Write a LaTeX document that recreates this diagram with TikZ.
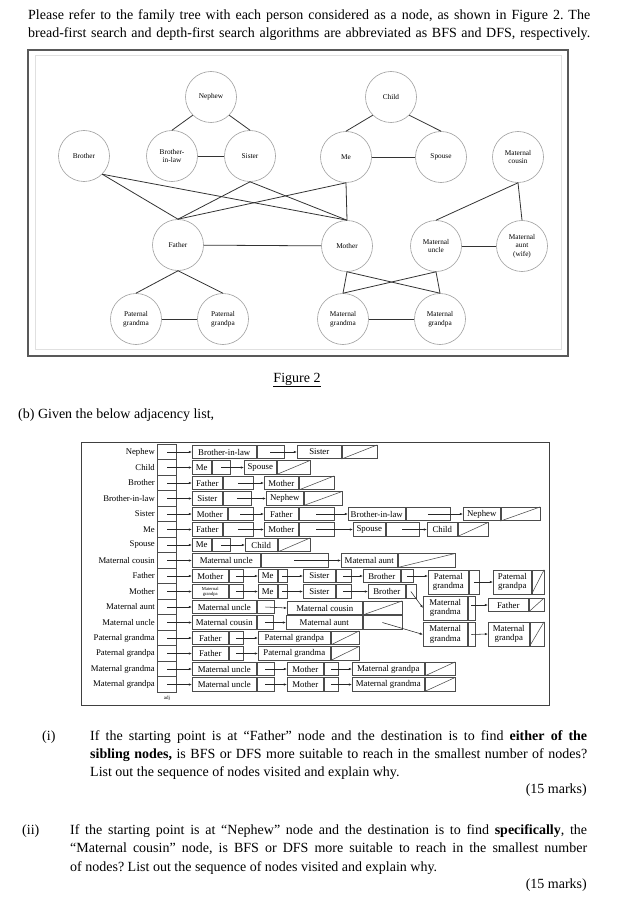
\documentclass[tikz,border=0pt]{standalone}
\usepackage{fontspec}
\setmainfont{Liberation Serif}
\usetikzlibrary{arrows.meta}
\frenchspacing

% one list cell: data field and pointer field
\newcommand{\lcell}[7][]{%
  \node[field, minimum width=#5pt, #1] (#2) at (#3,#4) {#7};
  \node[field, minimum width=#6pt, #1] (#2p) at (#2.east) {};}
% last list cell, pointer field crossed out
\newcommand{\ncell}[7][]{%
  \lcell[#1]{#2}{#3}{#4}{#5}{#6}{#7}%
  \draw[black!70, line width=0.55pt] (#2p.south west) -- (#2p.north east);}

\begin{document}
\begin{tikzpicture}[x=1pt, y=-1pt,
    person/.style={circle, draw=gray!75, line width=0.6pt, minimum size=51pt, inner sep=0pt, align=center, font=\fontsize{7.3}{8.6}\selectfont},
    tie/.style={draw=black!80, line width=0.8pt},
    body/.style={inner sep=0pt, font=\fontsize{14}{17}\selectfont},
    field/.style={draw=black!70, line width=0.55pt, minimum height=13.5pt, inner sep=1pt, anchor=west, font=\fontsize{8.8}{9.6}\selectfont},
    twoline/.style={minimum height=24pt, align=center},
    adjcell/.style={draw=black!70, line width=0.55pt, minimum width=19pt, minimum height=15.5pt},
    rowlabel/.style={anchor=east, inner sep=0pt, font=\fontsize{8.7}{9.6}\selectfont},
    link/.style={draw=black!85, line width=0.55pt, -{Latex[length=3.2pt, width=2.4pt]}}]
  \useasboundingbox (0,0) rectangle (617,904);

  \node[body, anchor=base west] (intro1) at (28,19.5) {\makebox[562pt][s]{Please refer to the family tree with each person considered as a node, as shown in Figure 2. The}};
  \node[body, anchor=base west] (intro2) at (28,37.5) {\makebox[562pt][s]{bread-first search and depth-first search algorithms are abbreviated as BFS and DFS, respectively.}};

  % Figure 2
  \draw[black!65, line width=1.2pt] (28,50) rectangle (568,356);
  \draw[black!12, line width=0.7pt] (35,55) rectangle (561,349);
  \node[person] (nephew) at (211,97) {Nephew};
  \node[person] (child) at (391,97) {Child};
  \node[person] (brother) at (84,156) {Brother};
  \node[person] (inlaw) at (172,156) {Brother-\\in-law};
  \node[person] (sister) at (250,156) {Sister};
  \node[person] (me) at (346,157) {Me};
  \node[person] (spouse) at (441,157) {Spouse};
  \node[person] (cousin) at (518,157) {Maternal\\cousin};
  \node[person] (father) at (178,245) {Father};
  \node[person] (mother) at (347,246) {Mother};
  \node[person] (uncle) at (436,246) {Maternal\\uncle};
  \node[person] (aunt) at (522,246) {Maternal\\aunt\\(wife)};
  \node[person] (pgma) at (136,319) {Paternal\\grandma};
  \node[person] (pgpa) at (223,319) {Paternal\\grandpa};
  \node[person] (mgma) at (343,319) {Maternal\\grandma};
  \node[person] (mgpa) at (440,319) {Maternal\\grandpa};

  \draw[tie] (nephew.south west) -- (inlaw.north);
  \draw[tie] (nephew.south east) -- (sister.north);
  \draw[tie] (inlaw) -- (sister);
  \draw[tie] (child.south west) -- (me.north);
  \draw[tie] (child.south east) -- (spouse.north);
  \draw[tie] (me) -- (spouse);
  \draw[tie] (brother.south east) -- (father.north);
  \draw[tie] (brother.south east) -- (mother.north);
  \draw[tie] (sister.south) -- (father.north);
  \draw[tie] (sister.south) -- (mother.north);
  \draw[tie] (me.south) -- (father.north);
  \draw[tie] (me.south) -- (mother.north);
  \draw[tie] (father) -- (mother);
  \draw[tie] (father.south) -- (pgma.north);
  \draw[tie] (father.south) -- (pgpa.north);
  \draw[tie] (pgma) -- (pgpa);
  \draw[tie] (mother.south) -- (mgma.north);
  \draw[tie] (mother.south) -- (mgpa.north);
  \draw[tie] (uncle.south) -- (mgma.north);
  \draw[tie] (uncle.south) -- (mgpa.north);
  \draw[tie] (mgma) -- (mgpa);
  \draw[tie] (cousin.south) -- (uncle.north);
  \draw[tie] (cousin.south) -- (aunt.north);
  \draw[tie] (uncle) -- (aunt);

  \node[body] (caption) at (297,380) {\underline{Figure 2}};
  \node[body, anchor=base west] (partb) at (18,418) {(b) Given the below adjacency list,};

  % adjacency list
  \draw[black!75, line width=0.8pt] (81,442) rectangle (549,705);
  \foreach \who [count=\i from 0] in {Nephew, Child, Brother, Brother-in-law, Sister, Me, Spouse, Maternal cousin, Father, Mother, Maternal aunt, Maternal uncle, Paternal grandma, Paternal grandpa, Maternal grandma, Maternal grandpa} {
    \node[rowlabel] (who\i) at (155,{452+15.5*\i}) {\who};
    \node[adjcell] (adj\i) at (167,{452+15.5*\i}) {};
  }
  \node[font=\fontsize{5}{5}\selectfont, inner sep=0pt] (adjname) at (167,698) {adj};

  \lcell{c0-1}{192}{452}{64}{27}{Brother-in-law}
  \ncell{c0-2}{297}{452}{44}{35}{Sister}
  \lcell{c1-1}{192}{467.5}{19}{18}{Me}
  \ncell{c1-2}{244}{467.5}{32}{33}{Spouse}
  \lcell{c2-1}{192}{483}{30}{30}{Father}
  \ncell{c2-2}{264}{483}{34}{35}{Mother}
  \lcell{c3-1}{192}{498.5}{30}{28}{Sister}
  \ncell{c3-2}{266}{498.5}{37}{38}{Nephew}
  \lcell{c4-1}{192}{514}{35}{25}{Mother}
  \lcell{c4-2}{264}{514}{34}{35}{Father}
  \lcell{c4-3}{348}{514}{57}{44}{Brother-in-law}
  \ncell{c4-4}{463}{514}{37}{39}{Nephew}
  \lcell{c5-1}{192}{529.5}{30}{30}{Father}
  \lcell{c5-2}{264}{529.5}{34}{35}{Mother}
  \lcell{c5-3}{353}{529.5}{32}{33}{Spouse}
  \ncell{c5-4}{427}{529.5}{30}{30}{Child}
  \lcell{c6-1}{192}{545}{19}{18}{Me}
  \ncell{c6-2}{245}{545}{32}{32}{Child}
  \lcell{c7-1}{192}{560.5}{68}{67}{Maternal uncle}
  \ncell{c7-2}{341}{560.5}{56}{57}{Maternal aunt}
  \lcell{c8-1}{192}{576}{36}{14}{Mother}
  \lcell{c8-2}{258}{576}{19}{9}{Me}
  \lcell{c8-3}{303}{576}{32}{15}{Sister}
  \lcell{c8-4}{363}{576}{37}{12}{Brother}
  \lcell[twoline]{c8-5}{428}{582}{40}{10}{Paternal\\grandma}
  \ncell[twoline]{c8-6}{493}{582}{38}{12}{Paternal\\grandpa}
  \lcell[align=center, font=\fontsize{4.6}{5.2}\selectfont]{c9-1}{192}{591.5}{36}{14}{Maternal\\grandpa}
  \lcell{c9-2}{258}{591.5}{19}{9}{Me}
  \lcell{c9-3}{303}{591.5}{32}{15}{Sister}
  \lcell{c9-4}{368}{591.5}{37}{10}{Brother}
  \lcell[twoline]{c9-5}{423}{608}{44}{7}{Maternal\\grandma}
  \ncell{c9-6}{488}{605}{40}{15}{Father}
  \lcell{c10-1}{192}{607}{64}{17}{Maternal uncle}
  \ncell{c10-2}{287}{608}{75}{39}{Maternal cousin}
  \lcell{c11-1}{192}{622.5}{64}{16}{Maternal cousin}
  \lcell{c11-2}{286}{622.5}{76}{39}{Maternal aunt}
  \lcell[twoline]{c11-3}{423}{634.5}{44}{7}{Maternal\\grandma}
  \ncell[twoline]{c11-4}{488}{634}{41}{14}{Maternal\\grandpa}
  \lcell{c12-1}{192}{638}{36}{14}{Father}
  \ncell{c12-2}{258}{638}{72}{28}{Paternal grandpa}
  \lcell{c13-1}{192}{653.5}{36}{14}{Father}
  \ncell{c13-2}{258}{653.5}{72}{28}{Paternal grandma}
  \lcell{c14-1}{192}{669}{64}{17}{Maternal uncle}
  \lcell{c14-2}{287}{669}{36}{14}{Mother}
  \ncell{c14-3}{352}{669}{72}{30}{Maternal grandpa}
  \lcell{c15-1}{192}{684.5}{64}{17}{Maternal uncle}
  \lcell{c15-2}{287}{684.5}{36}{14}{Mother}
  \ncell{c15-3}{352}{684.5}{72}{30}{Maternal grandma}

  % pointers
  \foreach \i in {0,...,15}
    \draw[link] (adj\i.center) -- (c\i-1.west);
  \foreach \a/\b in {c0-1/c0-2, c1-1/c1-2, c2-1/c2-2, c3-1/c3-2, c4-1/c4-2, c4-2/c4-3, c4-3/c4-4,
      c5-1/c5-2, c5-2/c5-3, c5-3/c5-4, c6-1/c6-2, c7-1/c7-2, c8-1/c8-2, c8-2/c8-3, c8-3/c8-4, c8-5/c8-6,
      c9-1/c9-2, c9-2/c9-3, c9-3/c9-4, c9-4/c9-5, c10-1/c10-2, c11-1/c11-2, c11-2/c11-3, c11-3/c11-4,
      c12-1/c12-2, c13-1/c13-2, c14-1/c14-2, c14-2/c14-3, c15-1/c15-2, c15-2/c15-3}
    \draw[link] (\a p.center) -- (\b.west);
  \draw[link] (c8-4p.center) -- (c8-4p.center -| c8-5.west);
  \draw[link] (c9-5p.center |- c9-6.west) -- (c9-6.west);

  % questions
  \node[body, anchor=base west] (qi) at (42,740) {(i)};
  \node[body, anchor=base west] (qi1) at (90,740) {\makebox[497pt][s]{If the starting point is at “Father” node and the destination is to find \textbf{either of the}}};
  \node[body, anchor=base west] (qi2) at (90,758) {\makebox[497pt][s]{\textbf{sibling nodes,} is BFS or DFS more suitable to reach in the smallest number of nodes?}};
  \node[body, anchor=base west] (qi3) at (90,776) {List out the sequence of nodes visited and explain why.};
  \node[body, anchor=base east] (qim) at (587,793) {(15 marks)};
  \node[body, anchor=base west] (qii) at (22,834) {(ii)};
  \node[body, anchor=base west] (qii1) at (70,834) {\makebox[517pt][s]{If the starting point is at “Nephew” node and the destination is to find \textbf{specifically}, the}};
  \node[body, anchor=base west] (qii2) at (70,852) {\makebox[517pt][s]{“Maternal cousin” node, is BFS or DFS more suitable to reach in the smallest number}};
  \node[body, anchor=base west] (qii3) at (70,871) {of nodes? List out the sequence of nodes visited and explain why.};
  \node[body, anchor=base east] (qiim) at (587,888) {(15 marks)};
\end{tikzpicture}
\end{document}
